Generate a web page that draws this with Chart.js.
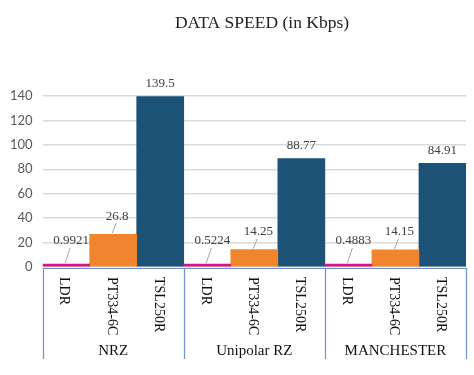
<!DOCTYPE html>
<html>
<head>
<meta charset="utf-8">
<script src="https://cdn.jsdelivr.net/npm/chart.js@4"></script>
<style>
  html, body { margin:0; padding:0; background:#fff; }
  #wrap { width:474px; height:375px; position:relative; }
</style>
</head>
<body>
<div id="wrap"><canvas id="speedChart"></canvas></div>
<script>
const groups = ['NRZ', 'Unipolar RZ', 'MANCHESTER'];
const sensors = ['LDR', 'PT334-6C', 'TSL250R'];

const ldr = [0.9921, 0.5224, 0.4883];
const pt334 = [26.8, 14.25, 14.15];
const tsl250r = [139.5, 88.77, 84.91];

const yMin = 0;
const yMax = 140;
const yStep = 20;

const colors = ['#d4177d', '#f0852e', '#1b5276'];

/* labels + axis box drawn by hand */
const decorations = {
  id:'decorations',
  afterDraw(chart){
    const ctx = chart.ctx;
    const area = chart.chartArea;
    const x = chart.scales.x;

    ctx.save();

    // title
    ctx.fillStyle = '#222';
    ctx.font = '17.5px "Liberation Serif", serif';
    ctx.textAlign = 'center';
    ctx.textBaseline = 'middle';
    ctx.fillText('DATA SPEED (in Kbps)', 262, 23);

    // value labels
    const dx = [5, 4, 0];
    const dy = [23, 18, 13];
    const series = [ldr, pt334, tsl250r];
    ctx.font = '13px "Liberation Serif", serif';
    series.forEach((vals, d) => {
      const meta = chart.getDatasetMeta(d);
      meta.data.forEach((el, i) => {
        const tx = el.x + dx[d];
        const ty = el.y - dy[d];
        if (d < 2) {
          ctx.strokeStyle = '#a6a6a6';
          ctx.lineWidth = 1;
          ctx.beginPath();
          ctx.moveTo(el.x - 1, el.y - 1);
          ctx.lineTo(tx - 1, ty + 7);
          ctx.stroke();
        }
        ctx.fillStyle = '#404040';
        ctx.fillText(String(vals[i]), tx, ty);
      });
    });

    // axis box
    const half = (x.getPixelForValue(1) - x.getPixelForValue(0)) / 2;
    ctx.strokeStyle = '#6f8fcf';
    ctx.lineWidth = 1.2;
    ctx.beginPath();
    ctx.moveTo(area.left, area.bottom + 1.5);
    ctx.lineTo(area.right, area.bottom + 1.5);
    for (let i = 0; i <= groups.length; i++) {
      const px = Math.round(x.getPixelForValue(0) - half + i * half * 2) + 0.5;
      ctx.moveTo(px, area.bottom + 1);
      ctx.lineTo(px, area.bottom + 92);
    }
    ctx.stroke();

    // sensor names, rotated
    ctx.fillStyle = '#111';
    ctx.font = '14px "Liberation Serif", serif';
    ctx.textAlign = 'left';
    ctx.textBaseline = 'middle';
    sensors.forEach((name, d) => {
      const meta = chart.getDatasetMeta(d);
      meta.data.forEach(el => {
        ctx.save();
        ctx.translate(el.x - 2, area.bottom + 10);
        ctx.rotate(Math.PI / 2);
        ctx.fillText(name, 0, 0);
        ctx.restore();
      });
    });

    // group names
    ctx.font = '15px "Liberation Serif", serif';
    ctx.textAlign = 'center';
    groups.forEach((g, i) => {
      ctx.fillText(g, x.getPixelForValue(i), area.bottom + 84);
    });

    ctx.restore();
  }
};

new Chart(document.getElementById('speedChart'), {

  type:'bar',

  data:{
    labels:groups,
    datasets:sensors.map((name, d) => ({
      label:name,
      data:[ldr, pt334, tsl250r][d],
      backgroundColor:colors[d],
      borderColor:colors[d],
      borderWidth:0,
      categoryPercentage:1,
      barPercentage:1,
      minBarLength:3
    }))
  },

  options:{
    responsive:true,
    maintainAspectRatio:false,
    animation:false,
    layout:{
      padding:{ top:96, bottom:100, left:0, right:8 }
    },
    plugins:{
      legend:{ display:false },
      title:{ display:false },
      tooltip:{ enabled:false }
    },
    scales:{
      x:{
        grid:{ display:false },
        border:{ display:false },
        ticks:{ display:false }
      },
      y:{
        min:yMin,
        max:yMax,
        ticks:{
          stepSize:yStep,
          color:'#595959',
          font:{ family:'Lato, "Liberation Sans", sans-serif', size:13 },
          padding:10
        },
        grid:{ color:'#d9d9d9', lineWidth:1.5, drawTicks:false },
        border:{ display:false }
      }
    }
  },

  plugins:[decorations]

});
</script>
</body>
</html>
